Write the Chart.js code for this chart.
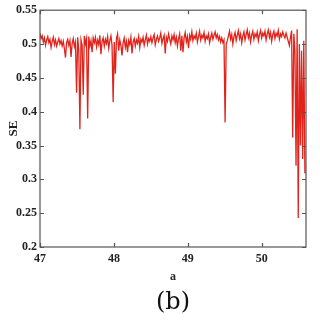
<!DOCTYPE html>
<html>
<head>
<meta charset="utf-8">
<script src="https://cdn.jsdelivr.net/npm/chart.js@4.4.1/dist/chart.umd.min.js"></script>
<style>
html,body{margin:0;padding:0;background:#fff;}
#wrap{position:relative;width:320px;height:320px;overflow:hidden;}
#c{position:absolute;left:0;top:0;}
#cap{position:absolute;left:0;width:346px;top:286px;text-align:center;font-family:"DejaVu Serif",serif;font-size:24px;color:#111;line-height:30px;}
</style>
</head>
<body>
<div id="wrap">
<canvas id="c" width="320" height="320"></canvas>
<div id="cap">(b)</div>
</div>
<script>
// Sampling of parameter a
const aStart = 47;
const aStep = 0.015;
// SE values (one per sample of a)
const seValues = [
0.516,0.508,0.512,0.503,0.509,0.498,0.506,0.511,0.502,0.507,0.495,0.504,0.510,0.499,0.506,0.497,0.503,0.508,0.500,0.505,
0.497,0.504,0.493,0.480,0.502,0.507,0.498,0.505,0.481,0.501,0.508,0.496,0.503,0.428,0.510,0.490,0.374,0.506,0.498,0.425,
0.512,0.500,0.508,0.390,0.511,0.497,0.505,0.488,0.509,0.502,0.510,0.496,0.506,0.499,0.513,0.485,0.504,0.509,0.497,0.507,
0.501,0.511,0.494,0.505,0.512,0.498,0.414,0.503,0.456,0.508,0.515,0.490,0.506,0.498,0.483,0.502,0.509,0.495,0.504,0.488,
0.505,0.499,0.510,0.486,0.503,0.508,0.497,0.506,0.501,0.511,0.495,0.507,0.503,0.510,0.498,0.506,0.513,0.500,0.508,0.504,
0.511,0.502,0.509,0.514,0.499,0.507,0.512,0.504,0.509,0.516,0.501,0.508,0.513,0.486,0.510,0.504,0.515,0.507,0.500,0.512,
0.506,0.514,0.502,0.510,0.497,0.508,0.515,0.490,0.512,0.488,0.509,0.517,0.503,0.511,0.494,0.513,0.507,0.518,0.505,0.512,
0.508,0.516,0.503,0.511,0.519,0.506,0.513,0.509,0.517,0.504,0.512,0.508,0.515,0.502,0.510,0.516,0.507,0.513,0.518,0.509,
0.514,0.506,0.511,0.503,0.509,0.502,0.506,0.384,0.500,0.505,0.512,0.519,0.507,0.514,0.500,0.511,0.517,0.505,0.513,0.520,
0.508,0.515,0.502,0.512,0.518,0.506,0.514,0.521,0.509,0.516,0.503,0.513,0.519,0.507,0.515,0.511,0.518,0.505,0.514,0.520,
0.509,0.516,0.512,0.519,0.506,0.515,0.521,0.510,0.517,0.504,0.514,0.519,0.508,0.516,0.512,0.520,0.507,0.515,0.511,0.518,
0.513,0.509,0.516,0.510,0.504,0.498,0.510,0.520,0.362,0.515,0.490,0.320,0.522,0.243,0.500,0.350,0.490,0.330,0.505,0.310,0.310
];
const xTicks = [47, 48, 49, 50];
const yTicks = [0.2, 0.25, 0.3, 0.35, 0.4, 0.45, 0.5, 0.55];
const xLabel = 'a';
const yLabel = 'SE';

const points = seValues.map((v, i) => ({x: aStart + i * aStep, y: v}));
const tickFont = {family: '"Liberation Serif", serif', size: 12, weight: 'bold'};
const titleFont = {family: '"Liberation Serif", serif', size: 13, weight: 'bold'};

const boxPlugin = {
  id: 'box',
  afterDatasetsDraw(chart) {
    const {ctx, chartArea: a, scales} = chart;
    ctx.save();
    ctx.strokeStyle = '#555';
    ctx.lineWidth = 1.2;
    ctx.strokeRect(a.left, a.top, a.right - a.left, a.bottom - a.top);
    ctx.beginPath();
    const L = 4;
    xTicks.forEach(t => {
      const p = Math.round(scales.x.getPixelForValue(t)) + 0.5;
      ctx.moveTo(p, a.bottom); ctx.lineTo(p, a.bottom - L);
      ctx.moveTo(p, a.top); ctx.lineTo(p, a.top + L);
    });
    yTicks.forEach(t => {
      const p = Math.round(scales.y.getPixelForValue(t)) + 0.5;
      ctx.moveTo(a.left, p); ctx.lineTo(a.left + L, p);
      ctx.moveTo(a.right, p); ctx.lineTo(a.right - L, p);
    });
    ctx.stroke();
    ctx.restore();
  }
};

new Chart(document.getElementById('c'), {
  type: 'line',
  data: {datasets: [{
    data: points,
    borderColor: '#e0231b',
    borderWidth: 1.3,
    pointRadius: 0,
    tension: 0,
    fill: false
  }]},
  options: {
    responsive: false,
    animation: false,
    events: [],
    layout: {padding: {top: 5, right: 14, left: 0, bottom: 0}},
    plugins: {legend: {display: false}, tooltip: {enabled: false}},
    scales: {
      x: {
        type: 'linear', min: 47, max: 50.6,
        afterBuildTicks: s => { s.ticks = xTicks.map(v => ({value: v})); },
        afterFit: s => { s.height = 73; },
        ticks: {font: tickFont, color: '#222', padding: 5, includeBounds: false,
                callback: v => String(v)},
        grid: {drawOnChartArea: false, drawTicks: false},
        border: {display: false},
        title: {display: true, text: xLabel, font: tickFont, color: '#222', padding: {top: 0, bottom: 36}}
      },
      y: {
        type: 'linear', min: 0.2, max: 0.55,
        afterBuildTicks: s => { s.ticks = yTicks.map(v => ({value: v})); },
        afterFit: s => { s.width = 40; },
        ticks: {font: tickFont, color: '#222', padding: 3,
                callback: v => String(parseFloat(v.toFixed(2)))},
        grid: {drawOnChartArea: false, drawTicks: false},
        border: {display: false},
        title: {display: true, text: yLabel, font: titleFont, color: '#222', padding: {top: 6, bottom: 0}}
      }
    }
  },
  plugins: [boxPlugin]
});
</script>
</body>
</html>
